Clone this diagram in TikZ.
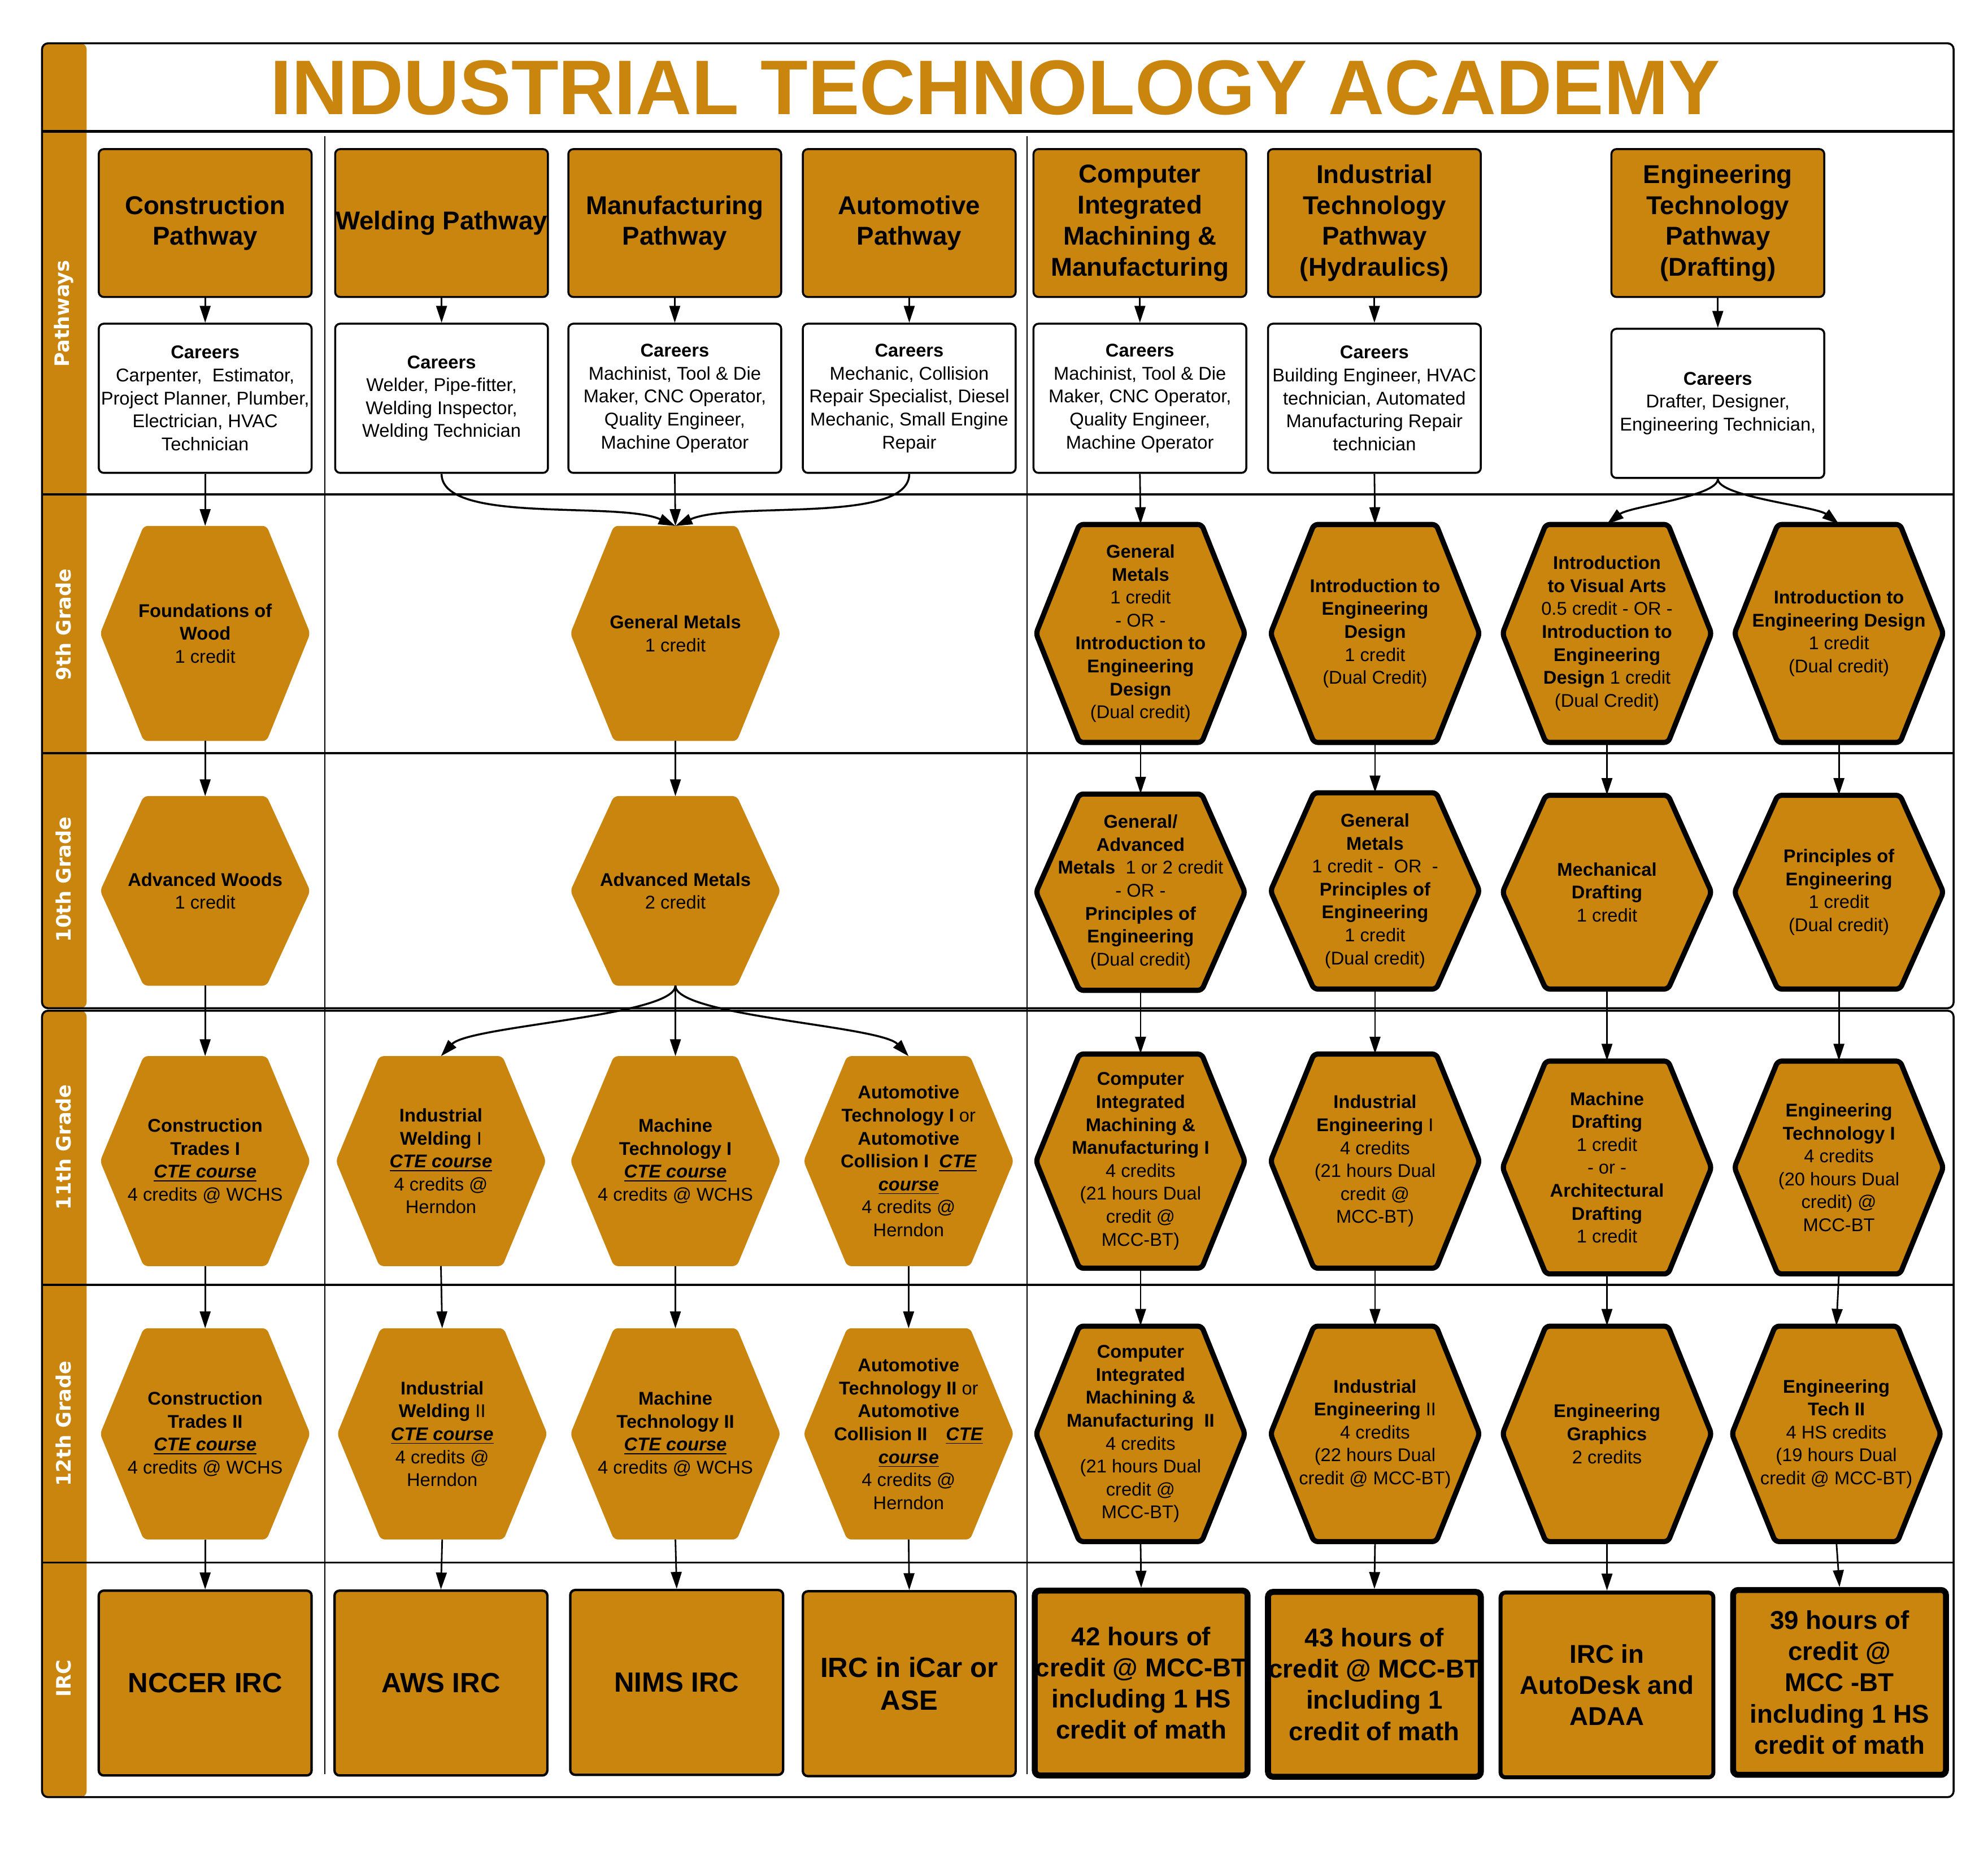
\documentclass[tikz,border=0pt]{standalone}
\usepackage{fontspec}
\setmainfont{Liberation Sans}
\newfontfamily\lanefont{DejaVu Sans}
\usepackage{tikz}
\usepackage{xcolor}
\usetikzlibrary{arrows.meta}
\definecolor{gold}{RGB}{201,133,14}
\tikzstyle{arr}=[-{Triangle[length=8.5pt,width=5.4pt]},line width=0.8pt]
\def\pu{0.6418pt}
\newcommand{\cellfont}{\fontsize{9.3}{11.55}\selectfont}
\newcommand{\cte}[1]{\underline{\textbf{\textit{#1}}}}
% hexagon: name, x, y, height, style, text
\newcommand{\hexcell}[6]{%
  \draw[#5] (#2-48,#3-#4/2) -- (#2+48,#3-#4/2) -- (#2+82,#3) -- (#2+48,#3+#4/2) -- (#2-48,#3+#4/2) -- (#2-82,#3) -- cycle;
  \node[hextxt,minimum height=#4*\pu] (#1) at (#2,#3) {#6};
}

\begin{document}
\begin{tikzpicture}[x=\pu,y=-\pu]
  \tikzstyle pool=[draw=black,line width=1pt,rounded corners=3pt];
  \tikzstyle lanesep=[draw=black,line width=1pt];
  \tikzstyle pbox=[draw=black,fill=gold,line width=1pt,rounded corners=2.5pt,inner sep=0pt,minimum width=167*\pu,minimum height=116*\pu,align=center,font=\fontsize{13}{15.6}\selectfont\bfseries];
  \tikzstyle cbox=[draw=black,fill=white,line width=1pt,rounded corners=2.5pt,inner sep=0pt,minimum width=167*\pu,minimum height=117*\pu,align=center,font=\cellfont];
  \tikzstyle ibox=[draw=black,fill=gold,line width=1.2pt,rounded corners=2.5pt,inner sep=0pt,minimum width=167*\pu,minimum height=145*\pu,align=center,font=\fontsize{14}{16.5}\selectfont\bfseries];
  \tikzstyle ithick=[line width=3pt,font=\fontsize{13}{15.7}\selectfont\bfseries];
  \tikzstyle lhex=[fill=gold,draw=gold,line width=0.5pt,rounded corners=2pt];
  \tikzstyle rhex=[fill=gold,draw=black,line width=2.6pt,rounded corners=2pt];
  \tikzstyle hextxt=[inner sep=0pt,align=center,font=\cellfont];
  \tikzstyle lane=[text=white,rotate=90,font=\lanefont\fontsize{10}{12}\selectfont\bfseries];
  \tikzstyle ttl=[text=gold,font=\fontsize{39}{40}\selectfont\bfseries];

  \useasboundingbox (0,0) rectangle (1560,1452);

  % pools and lanes
  \fill[gold,rounded corners=3pt] (33,34) rectangle (68,791);
  \fill[gold,rounded corners=3pt] (33,793) rectangle (68,1410);
  \draw[lanesep,line width=1.6pt] (33,103) -- (1533,103);
  \foreach \y in {388,591,1008,1226} \draw[lanesep] (33,\y) -- (1533,\y);
  \draw[pool] (33,34) rectangle (1533,791);
  \draw[pool] (33,793) rectangle (1533,1410);
  \foreach \x in {255,806} \draw[line width=0.7pt] (\x,107) -- (\x,1392);

  % lane labels
  \node[ttl] (title) at (781,69) {INDUSTRIAL TECHNOLOGY ACADEMY};
  \node[lane] (lpath) at (50,246) {Pathways};
  \node[lane] (l9) at (50,490) {9th Grade};
  \node[lane] (l10) at (50,690) {10th Grade};
  \node[lane] (l11) at (50,900) {11th Grade};
  \node[lane] (l12) at (50,1117) {12th Grade};
  \node[lane] (lirc) at (50,1317) {IRC};

  % pathways
  \node[pbox] (pcon) at (161,175) {Construction\\Pathway};
  \node[pbox] (pwel) at (346.5,175) {Welding Pathway};
  \node[pbox] (pman) at (529.5,175) {Manufacturing\\Pathway};
  \node[pbox] (paut) at (713.5,175) {Automotive\\Pathway};
  \node[pbox] (pcim) at (894.5,175) {Computer\\Integrated\\Machining \&\\Manufacturing};
  \node[pbox] (pind) at (1078.5,175) {Industrial\\Technology\\Pathway\\(Hydraulics)};
  \node[pbox] (peng) at (1348,175) {Engineering\\Technology\\Pathway\\(Drafting)};

  % careers
  \node[cbox] (ccon) at (161,312.5) {\textbf{Careers}\\Carpenter,~ Estimator,\\Project Planner, Plumber,\\Electrician, HVAC\\Technician};
  \node[cbox] (cwel) at (346.5,312.5) {\textbf{Careers}\\Welder, Pipe-fitter,\\Welding Inspector,\\Welding Technician};
  \node[cbox] (cman) at (529.5,312.5) {\textbf{Careers}\\Machinist, Tool \& Die\\Maker, CNC Operator,\\Quality Engineer,\\Machine Operator};
  \node[cbox] (caut) at (713.5,312.5) {\textbf{Careers}\\Mechanic, Collision\\Repair Specialist, Diesel\\Mechanic, Small Engine\\Repair};
  \node[cbox] (ccim) at (894.5,312.5) {\textbf{Careers}\\Machinist, Tool \& Die\\Maker, CNC Operator,\\Quality Engineer,\\Machine Operator};
  \node[cbox] (cind) at (1078.5,312.5) {\textbf{Careers}\\Building Engineer, HVAC\\technician, Automated\\Manufacturing Repair\\technician};
  \node[cbox] (ceng) at (1348,316.5) {\textbf{Careers}\\Drafter, Designer,\\Engineering Technician,};

  % 9th grade
  \hexcell{n9con}{161}{497}{168}{lhex}{\textbf{Foundations of}\\\textbf{Wood}\\1 credit}
  \hexcell{n9met}{530}{497}{168}{lhex}{\textbf{General Metals}\\1 credit}
  \hexcell{n9cim}{895}{497}{171}{rhex}{\textbf{General}\\\textbf{Metals}\\1 credit\\- OR -\\\textbf{Introduction to}\\\textbf{Engineering}\\\textbf{Design}\\(Dual credit)}
  \hexcell{n9ind}{1079}{497}{171}{rhex}{\textbf{Introduction to}\\\textbf{Engineering}\\\textbf{Design}\\1 credit\\(Dual Credit)}
  \hexcell{n9art}{1261}{497}{171}{rhex}{\textbf{Introduction}\\\textbf{to Visual Arts}\\0.5 credit - OR -\\\textbf{Introduction to}\\\textbf{Engineering}\\\textbf{Design} 1 credit\\(Dual Credit)}
  \hexcell{n9eng}{1443}{497}{171}{rhex}{\textbf{Introduction to}\\\textbf{Engineering Design}\\1 credit\\(Dual credit)}

  % 10th grade
  \hexcell{n10con}{161}{699}{148}{lhex}{\textbf{Advanced Woods}\\1 credit}
  \hexcell{n10met}{530}{699}{148}{lhex}{\textbf{Advanced Metals}\\2 credit}
  \hexcell{n10cim}{895}{700}{154}{rhex}{\textbf{General/}\\\textbf{Advanced}\\\textbf{Metals}~ 1 or 2 credit\\- OR -\\\textbf{Principles of}\\\textbf{Engineering}\\(Dual credit)}
  \hexcell{n10ind}{1079}{699}{154}{rhex}{\textbf{General}\\\textbf{Metals}\\1 credit -~ OR~ -\\\textbf{Principles of}\\\textbf{Engineering}\\1 credit\\(Dual credit)}
  \hexcell{n10dra}{1261}{700}{152}{rhex}{\textbf{Mechanical}\\\textbf{Drafting}\\1 credit}
  \hexcell{n10eng}{1443}{700}{152}{rhex}{\textbf{Principles of}\\\textbf{Engineering}\\1 credit\\(Dual credit)}

  % 11th grade
  \hexcell{n11con}{161}{911}{164}{lhex}{\textbf{Construction}\\\textbf{Trades I}\\\cte{CTE course}\\4 credits @ WCHS}
  \hexcell{n11wel}{346}{911}{164}{lhex}{\textbf{Industrial}\\\textbf{Welding} I\\\cte{CTE course}\\4 credits @\\Herndon}
  \hexcell{n11mac}{530}{911}{164}{lhex}{\textbf{Machine}\\\textbf{Technology I}\\\cte{CTE course}\\4 credits @ WCHS}
  \hexcell{n11aut}{713}{911}{164}{lhex}{\textbf{Automotive}\\\textbf{Technology I} or\\\textbf{Automotive}\\\textbf{Collision I}~ \cte{CTE}\\\cte{course}\\4 credits @\\Herndon}
  \hexcell{n11cim}{895}{911}{168}{rhex}{\textbf{Computer}\\\textbf{Integrated}\\\textbf{Machining \&}\\\textbf{Manufacturing I}\\4 credits\\(21 hours Dual\\credit @\\MCC-BT)}
  \hexcell{n11ind}{1079}{911}{168}{rhex}{\textbf{Industrial}\\\textbf{Engineering} I\\4 credits\\(21 hours Dual\\credit @\\MCC-BT)}
  \hexcell{n11dra}{1261}{916}{167}{rhex}{\textbf{Machine}\\\textbf{Drafting}\\1 credit\\- or -\\\textbf{Architectural}\\\textbf{Drafting}\\1 credit}
  \hexcell{n11eng}{1443}{916}{167}{rhex}{\textbf{Engineering}\\\textbf{Technology I}\\4 credits\\(20 hours Dual\\credit) @\\MCC-BT}

  % 12th grade
  \hexcell{n12con}{161}{1125}{165}{lhex}{\textbf{Construction}\\\textbf{Trades II}\\\cte{CTE course}\\4 credits @ WCHS}
  \hexcell{n12wel}{347}{1125}{165}{lhex}{\textbf{Industrial}\\\textbf{Welding} II\\\cte{CTE course}\\4 credits @\\Herndon}
  \hexcell{n12mac}{530}{1125}{165}{lhex}{\textbf{Machine}\\\textbf{Technology II}\\\cte{CTE course}\\4 credits @ WCHS}
  \hexcell{n12aut}{713}{1125}{165}{lhex}{\textbf{Automotive}\\\textbf{Technology II} or\\\textbf{Automotive}\\\textbf{Collision II}\quad\cte{CTE}\\\cte{course}\\4 credits @\\Herndon}
  \hexcell{n12cim}{895}{1125}{169}{rhex}{\textbf{Computer}\\\textbf{Integrated}\\\textbf{Machining \&}\\\textbf{Manufacturing~ II}\\4 credits\\(21 hours Dual\\credit @\\MCC-BT)}
  \hexcell{n12ind}{1079}{1125}{169}{rhex}{\textbf{Industrial}\\\textbf{Engineering} II\\4 credits\\(22 hours Dual\\credit @ MCC-BT)}
  \hexcell{n12dra}{1261}{1125}{169}{rhex}{\textbf{Engineering}\\\textbf{Graphics}\\2 credits}
  \hexcell{n12eng}{1441}{1125}{169}{rhex}{\textbf{Engineering}\\\textbf{Tech II}\\4 HS credits\\(19 hours Dual\\credit @ MCC-BT)}

  % IRC
  \node[ibox] (icon) at (161,1320.5) {NCCER IRC};
  \node[ibox] (iwel) at (346,1320.5) {AWS IRC};
  \node[ibox] (imac) at (531,1320) {NIMS IRC};
  \node[ibox] (iaut) at (713.5,1321) {IRC in iCar or\\ASE};
  \node[ibox,ithick] (icim) at (895.5,1320.5) {42 hours of\\credit @ MCC-BT\\including 1 HS\\credit of math};
  \node[ibox,ithick] (iind) at (1078.5,1321.5) {43 hours of\\credit @ MCC-BT\\including 1\\credit of math};
  \node[ibox,ithick,line width=2pt] (idra) at (1261,1322) {IRC in\\AutoDesk and\\ADAA};
  \node[ibox,ithick] (ieng) at (1443.5,1320) {39 hours of\\credit @\\MCC -BT\\including 1 HS\\credit of math};

  % straight arrows
  \foreach \a/\b in {pcon/ccon,pwel/cwel,pman/cman,paut/caut,pcim/ccim,pind/cind,peng/ceng,%
    ccon/n9con,cman/n9met,ccim/n9cim,cind/n9ind,%
    n9con/n10con,n9met/n10met,n9cim/n10cim,n9ind/n10ind,n9art/n10dra,n9eng/n10eng,%
    n10con/n11con,n10met/n11mac,n10cim/n11cim,n10ind/n11ind,n10dra/n11dra,n10eng/n11eng,%
    n11con/n12con,n11wel/n12wel,n11mac/n12mac,n11aut/n12aut,n11cim/n12cim,n11ind/n12ind,n11dra/n12dra,n11eng/n12eng,%
    n12con/icon,n12wel/iwel,n12mac/imac,n12aut/iaut,n12cim/icim,n12ind/iind,n12dra/idra,n12eng/ieng}
    \draw[arr] (\a.south) -- (\b.north);

  % curved arrows
  \draw[arr,line width=1pt] (cwel.south) .. controls +(0,40) and +(-45,-20) .. (n9met.north);
  \draw[arr,line width=1pt] (caut.south) .. controls +(0,40) and +(45,-20) .. (n9met.north);
  \draw[arr,line width=1pt] (ceng.south) .. controls +(0,14) and +(18,-14) .. (n9art.north);
  \draw[arr,line width=1pt] (ceng.south) .. controls +(0,14) and +(-18,-14) .. (n9eng.north);
  \draw[arr,line width=1pt] (n10met.south) .. controls +(0,24) and +(22,-24) .. (n11wel.north);
  \draw[arr,line width=1pt] (n10met.south) .. controls +(0,24) and +(-22,-24) .. (n11aut.north);
\end{tikzpicture}
\end{document}
